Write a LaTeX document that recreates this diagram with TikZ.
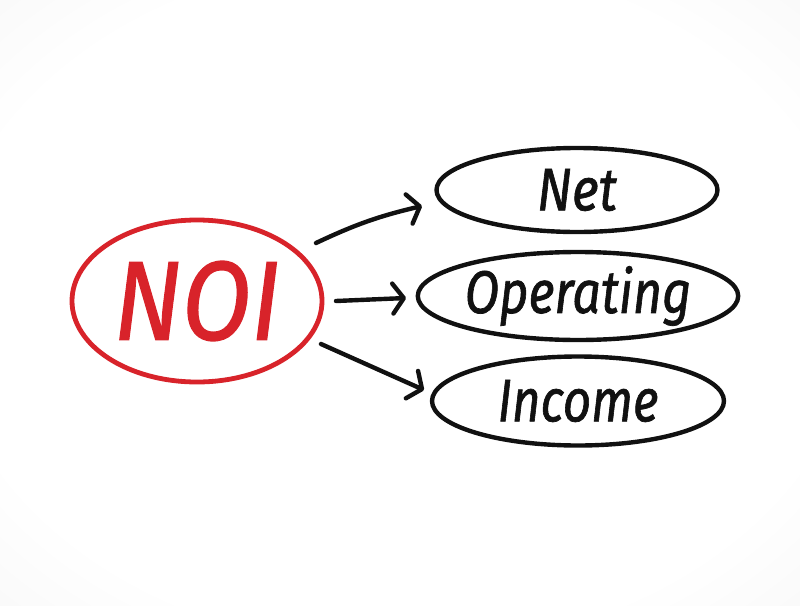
\documentclass[tikz,border=0pt]{standalone}
\usepackage{fontspec}
\setmainfont{Fira Sans}[ItalicFeatures={FakeBold=1.2}]
\usetikzlibrary{shapes.geometric,arrows.meta}
\definecolor{noired}{HTML}{D8232A}
\definecolor{ink}{HTML}{111111}
\pgfdeclareradialshading{bgshade}{\pgfpoint{0bp}{0bp}}{color(0bp)=(white); color(28bp)=(white); color(50bp)=(black!6); color(72bp)=(black!9)}
\tikzset{
  oval/.style={draw=ink, line width=4.4pt, ellipse, inner sep=0pt, text=ink, font=\itshape\fontsize{60}{60}\selectfont},
  redoval/.style={draw=noired, line width=4.8pt, ellipse, inner sep=0pt, text=noired, font=\itshape\fontsize{112}{112}\selectfont},
  arr/.style={draw=ink, line width=4.4pt, line cap=round, -{Straight Barb[length=11pt,width=30pt,line width=4.4pt,round]}}
}
\begin{document}
\begin{tikzpicture}[x=1pt,y=-1pt]
\useasboundingbox (0,0) rectangle (800,605);
\shade[shading=bgshade] (0,0) rectangle (800,605);
\node[redoval, minimum width=250pt, minimum height=162pt] (noi) at (197,301) {\scalebox{0.9}[1]{NOI}};
\node[oval, minimum width=281pt, minimum height=84pt] (net) at (577,190) {\scalebox{0.86}[1]{Net}};
\node[oval, minimum width=300pt, minimum height=88pt] (op) at (578,296) {\scalebox{0.84}[1]{Operating}};
\node[oval, minimum width=292pt, minimum height=89pt] (inc) at (578,401) {\scalebox{0.82}[1]{Income}};
\draw[arr] ([shift={(119,-58)}]noi.center) to[bend left=6] ([shift={(-155,16)}]net.center);
\draw[arr] ([shift={(139,0)}]noi.center) -- ([shift={(-172,2)}]op.center);
\draw[arr] ([shift={(124,43)}]noi.center) -- ([shift={(-154,-11)}]inc.center);
\end{tikzpicture}
\end{document}
